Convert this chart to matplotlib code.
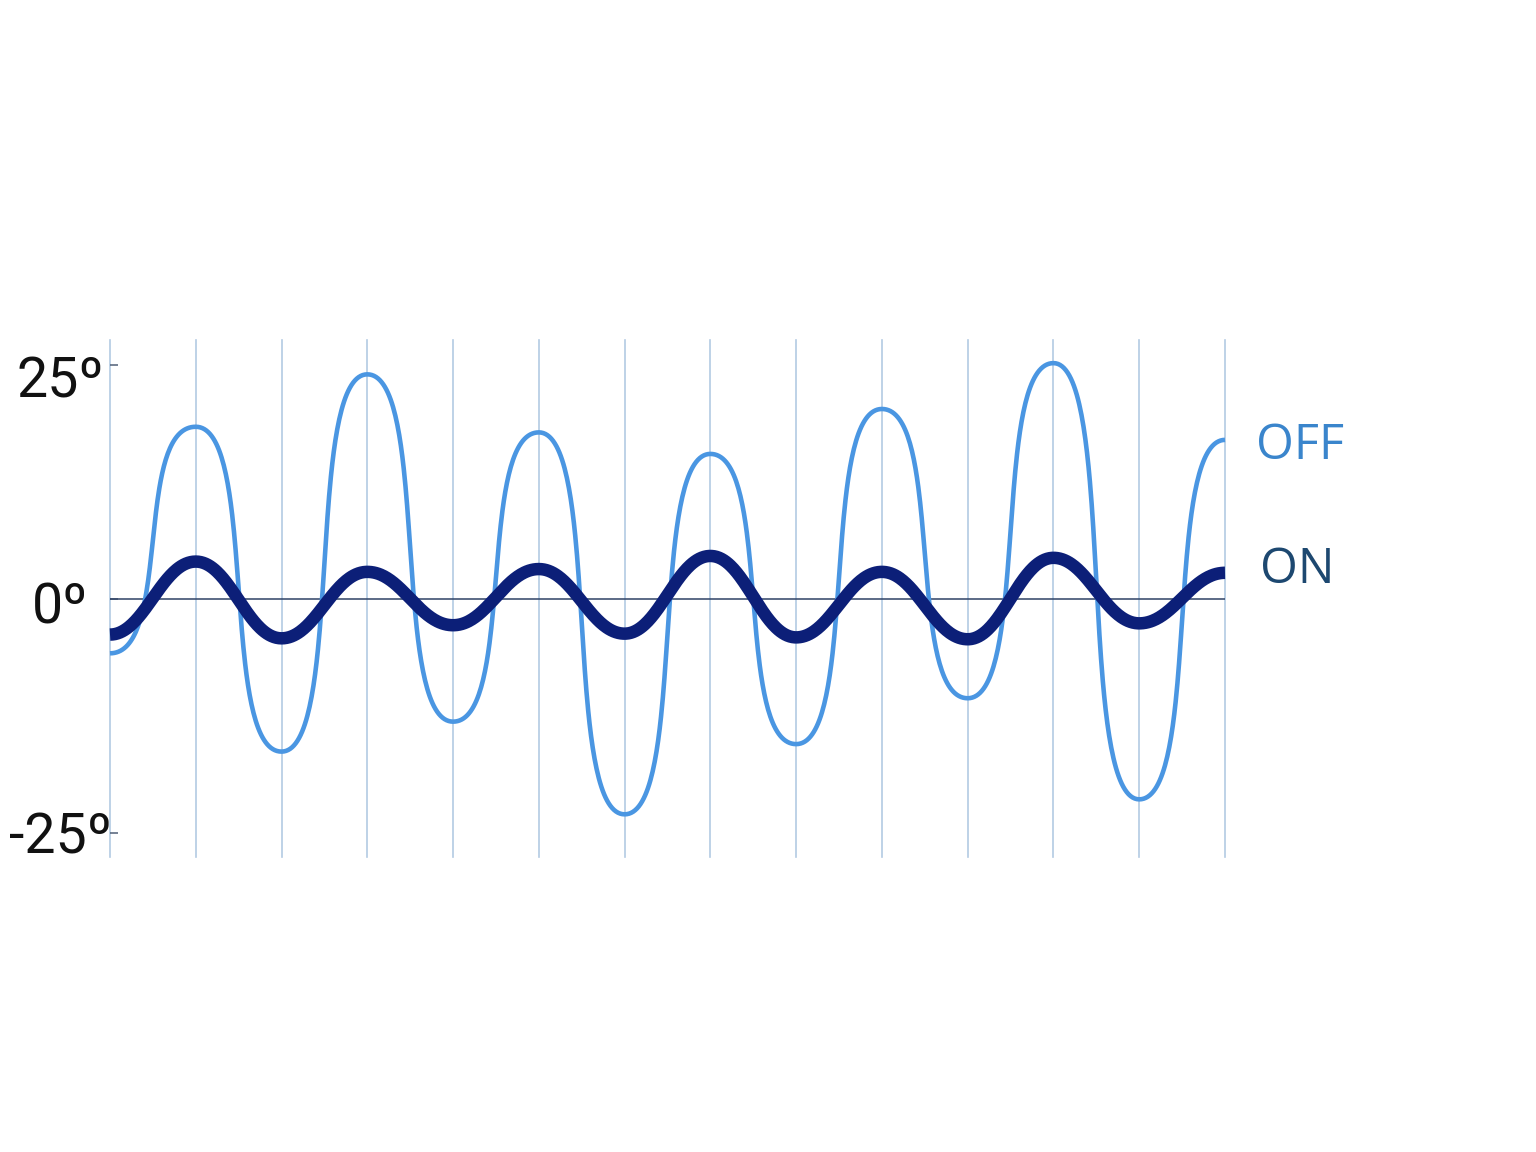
import numpy as np
import matplotlib
matplotlib.use("Agg")
import matplotlib.pyplot as plt
from matplotlib.transforms import offset_copy

# ---- data ----
steps = list(range(14))
off_vals = [-5.8, 18.4, -16.3, 24.0, -13.1, 17.8, -23.0, 15.5, -15.5, 20.3, -10.6, 25.2, -21.4, 17.0]
on_vals = [-3.8, 4.0, -4.2, 2.9, -2.8, 3.2, -3.7, 4.6, -4.1, 2.9, -4.3, 4.4, -2.6, 2.8]
ytick_vals = [25, 0, -25]
ytick_labels = ["25º", "0º", "-25º"]
series_names = ["OFF", "ON"]

W, H = 1536, 1152
fig = plt.figure(figsize=(W / 100, H / 100), dpi=100)
ax = fig.add_axes([110 / W, 1 - 857 / H, 1115 / W, 517 / H])
ax.set_xlim(steps[0], steps[-1])
ax.set_ylim(-27.56, 27.67)


def bezier_curve(xs, ys, k, n=80):
    px, py = [], []
    for i in range(len(xs) - 1):
        x0, x1 = xs[i], xs[i + 1]
        y0, y1 = ys[i], ys[i + 1]
        h = x1 - x0
        t = np.linspace(0, 1, n)
        b0 = (1 - t) ** 3
        b1 = 3 * t * (1 - t) ** 2
        b2 = 3 * t ** 2 * (1 - t)
        b3 = t ** 3
        bx = b0 * x0 + b1 * (x0 + k * h) + b2 * (x1 - k * h) + b3 * x1
        by = b0 * y0 + b1 * y0 + b2 * y1 + b3 * y1
        px.extend(bx if i == 0 else bx[1:])
        py.extend(by if i == 0 else by[1:])
    return np.array(px), np.array(py)


# grid
for s in steps:
    ax.axvline(s, color="#b3cbe3", lw=1.2, zorder=1, clip_on=False)
ax.axhline(0, color="#2f4366", lw=1.1, zorder=2)

ox, oy = bezier_curve(steps, off_vals, 0.72)
ax.plot(ox, oy, color="#4a96e2", lw=3.3, zorder=3, clip_on=False, solid_capstyle="butt")
nx, ny = bezier_curve(steps, on_vals, 0.4)
ax.plot(nx, ny, color="#0c1f78", lw=9.0, zorder=4, clip_on=False, solid_capstyle="butt")

# axes styling
for sp in ax.spines.values():
    sp.set_visible(False)
ax.set_xticks([])
ax.set_yticks(ytick_vals)
ax.tick_params(axis="y", direction="in", length=5.8, width=1.1, color="#4f5f76",
               labelleft=False)

# y labels (centered horizontally at ~60px)
label_dy = [-33, -24, -20]
for v, lab, dy in zip(ytick_vals, ytick_labels, label_dy):
    tr = offset_copy(ax.get_yaxis_transform(), fig=fig, x=-50, y=dy, units="dots")
    ax.text(0, v, lab, transform=tr, ha="center", va="baseline",
            fontsize=40, family=["Roboto", "DejaVu Sans"], color="#111111")

# series labels
lab_colors = ["#3a85cc", "#1d4870"]
lab_vals = [off_vals[-1], on_vals[-1]]
lab_dx = [31, 35]
lab_dy = [0, 9]
for name, c, v, dx, dy in zip(series_names, lab_colors, lab_vals, lab_dx, lab_dy):
    tr = offset_copy(ax.transData, fig=fig, x=dx, y=dy, units="dots")
    ax.text(steps[-1], v, name, transform=tr, ha="left", va="center_baseline",
            fontsize=35, family=["Open Sans", "DejaVu Sans"], color=c)

fig.savefig("out.png", dpi=100, facecolor="white")
